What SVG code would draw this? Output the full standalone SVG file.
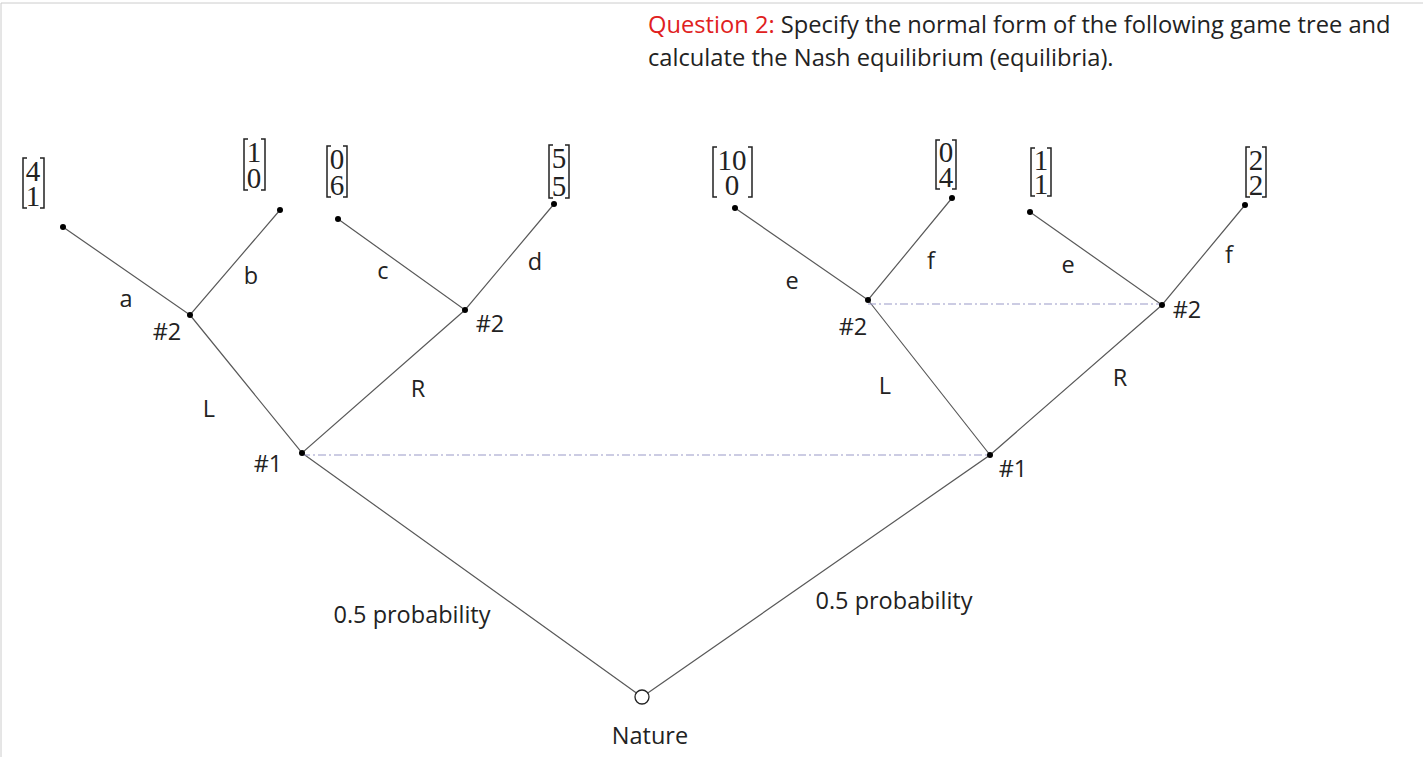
<svg xmlns="http://www.w3.org/2000/svg" width="1423" height="757" viewBox="0 0 1423 757">
<style>
.e{stroke:#595959;stroke-width:1.2;fill:none}
.i{stroke:#9a9ac8;stroke-width:1.2;stroke-dasharray:8,3,2,3;fill:none}
.t{font-family:"Open Sans","Noto Sans",sans-serif;font-size:23.5px;fill:#222}
.b{stroke:#222;stroke-width:1.5;fill:none}
</style>
<rect width="1423" height="757" fill="#fff"/>
<path d="M1 757V3H1423" stroke="#ccc" fill="none"/>
<text class="t" x="648" y="33" style="font-size:23.7px"><tspan fill="#e02020">Question 2:</tspan> Specify the normal form of the following game tree and</text>
<text class="t" x="648" y="66" style="font-size:23.7px">calculate the Nash equilibrium (equilibria).</text>
<g id="connectors">
<path class="e" d="M63 227L190 315L280 210M338 219L465 310L554 204M190 315L302 453L465 310M302 453L642 697L990 455L868 300M990 455L1162 305M735 208L868 300L952 198M1030 212L1162 305L1245 205"/>
<path class="i" d="M302 455H990M868 304H1162"/>
</g>
<g id="nodes" fill="#000">
<circle cx="63" cy="227" r="3"/><circle cx="280" cy="210" r="3"/><circle cx="338" cy="219" r="3"/><circle cx="554" cy="204" r="3"/>
<circle cx="735" cy="208" r="3"/><circle cx="952" cy="198" r="3"/><circle cx="1030" cy="212" r="3"/><circle cx="1245" cy="205" r="3"/>
<circle cx="190" cy="315" r="3"/><circle cx="465" cy="310" r="3"/><circle cx="868" cy="300" r="3"/><circle cx="1162" cy="305" r="3"/>
<circle cx="302" cy="453" r="3"/><circle cx="990" cy="455" r="3"/>
<circle cx="642" cy="697" r="7" fill="#fff" stroke="#222" stroke-width="1.3"/>
</g>
<g id="payoffs" font-family="Liberation Serif, serif" font-size="29" fill="#222" text-anchor="middle">
<path class="b" d="M27 158h-4v50h4M40 158h4v50h-4"/><text x="33" y="181">4</text><text x="33" y="206">1</text>
<path class="b" d="M248 139h-4v51h4M261 139h4v51h-4"/><text x="254" y="162">1</text><text x="254" y="188">0</text>
<path class="b" d="M331 146h-4v51h4M343 146h4v51h-4"/><text x="337" y="169">0</text><text x="337" y="195">6</text>
<path class="b" d="M553 145h-4v53h4M565 145h4v53h-4"/><text x="559" y="168">5</text><text x="559" y="196">5</text>
<path class="b" d="M717 147h-4v50h4M748 147h4v50h-4"/><text x="732" y="170">10</text><text x="732" y="195">0</text>
<path class="b" d="M940 140h-4v49h4M952 140h4v49h-4"/><text x="946" y="162">0</text><text x="946" y="187">4</text>
<path class="b" d="M1035 148h-4v48h4M1047 148h4v48h-4"/><text x="1041" y="170">1</text><text x="1041" y="194">1</text>
<path class="b" d="M1250 147h-4v50h4M1262 147h4v50h-4"/><text x="1256" y="170">2</text><text x="1256" y="195">2</text>
</g>
<g id="labels" class="t" text-anchor="middle">
<text x="126" y="307">a</text><text x="251" y="284">b</text><text x="383" y="279">c</text><text x="535" y="270">d</text>
<text x="792" y="289">e</text><text x="931" y="269">f</text><text x="1068" y="273">e</text><text x="1229" y="263">f</text>
<text x="167" y="340">#2</text><text x="490" y="332">#2</text><text x="853" y="335">#2</text><text x="1187" y="318">#2</text>
<text x="209" y="417">L</text><text x="418" y="397">R</text><text x="885" y="394">L</text><text x="1120" y="386">R</text>
<text x="268" y="472">#1</text><text x="1013" y="477">#1</text>
<text x="412" y="623">0.5 probability</text><text x="894" y="609">0.5 probability</text>
<text x="650" y="744">Nature</text>
</g>
</svg>
